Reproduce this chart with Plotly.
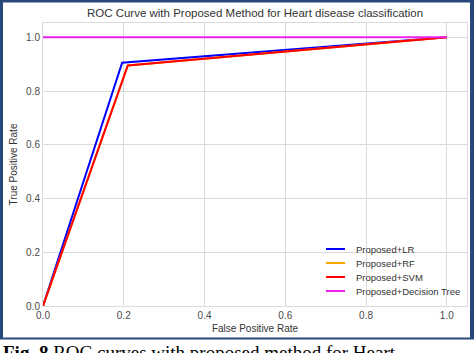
import plotly.graph_objects as go

# ---- data ----
fpr_lr = [0.0, 0.196, 1.0]
tpr_lr = [0.0, 0.905, 1.0]
fpr_rf = [0.0, 0.21, 1.0]
tpr_rf = [0.0, 0.895, 1.0]
fpr_svm = [0.0, 0.21, 1.0]
tpr_svm = [0.0, 0.895, 1.0]
fpr_dt = [0.0, 1.0]
tpr_dt = [1.0, 1.0]
tick_vals = [0.0, 0.2, 0.4, 0.6, 0.8, 1.0]
tick_text = ["0.0", "0.2", "0.4", "0.6", "0.8", "1.0"]

W, H = 474, 353
L, R, T, B = 43, 467, 23, 306  # plot area in pixels


def px(x):
    return (x - L) / (R - L)


def py(y):
    return (B - y) / (B - T)


fig = go.Figure()
series = [
    ("Proposed+LR", fpr_lr, tpr_lr, "#0000ff"),
    ("Proposed+RF", fpr_rf, tpr_rf, "#ffa500"),
    ("Proposed+SVM", fpr_svm, tpr_svm, "#ff0000"),
    ("Proposed+Decision Tree", fpr_dt, tpr_dt, "#ee22ee"),
]
for name, x, y, c in series:
    fig.add_trace(go.Scatter(x=x, y=y, mode="lines", name=name, showlegend=False,
                             line=dict(color=c, width=2)))

axis_common = dict(
    showgrid=True, gridcolor="#dadada", gridwidth=1,
    showline=True, linecolor="#dadada", linewidth=1, mirror=True,
    zeroline=False, ticks="", tickvals=tick_vals, ticktext=tick_text,
    tickfont=dict(family="Liberation Sans, Arial", size=10, color="#4a4a4a"),
)

fig.update_layout(
    width=W, height=H,
    margin=dict(l=L, r=W - R, t=T, b=H - B),
    paper_bgcolor="white", plot_bgcolor="white",
    font=dict(family="Liberation Sans, Arial", color="#333333"),
    title=dict(text="ROC Curve with Proposed Method for Heart disease classification",
               x=px((L + R) / 2), xref="paper", xanchor="center",
               y=1 - 13 / H, yanchor="middle",
               font=dict(size=11.5, color="#333333")),
    xaxis=dict(range=[0, 1.05], title=dict(text="False Positive Rate", standoff=4,
                                              font=dict(size=10, color="#333333")),
               **axis_common),
    yaxis=dict(range=[0, 1.053], title=dict(text="True Positive Rate", standoff=6,
                                               font=dict(size=10, color="#333333")),
               **axis_common),
)

shapes = []
# manual legend (compact, frameless, like the reference)
leg_x0, leg_x1, leg_tx = 326, 345, 354
leg_y0, leg_dy = 249, 14
for i, (name, _, _, c) in enumerate(series):
    yy = leg_y0 + i * leg_dy
    shapes.append(dict(type="line", xref="paper", yref="paper",
                       x0=px(leg_x0), x1=px(leg_x1), y0=py(yy), y1=py(yy),
                       line=dict(color=c, width=2), layer="above"))
    fig.add_annotation(text=name, xref="paper", yref="paper", x=px(leg_tx), y=py(yy),
                       xanchor="left", yanchor="middle", showarrow=False,
                       font=dict(size=9.5, color="#333333"))

frame = "#28487c"
frame_rects = [
    (0, 3, 0, 339),
    (0, 474, 0, 2.5),
    (470, 474, 0, 339),
    (0, 474, 337.5, 339.5),
]
for x0, x1, y0, y1 in frame_rects:
    shapes.append(dict(type="rect", xref="paper", yref="paper",
                       x0=px(x0), x1=px(x1), y0=py(y1), y1=py(y0),
                       fillcolor=frame, line=dict(width=0), layer="above"))
fig.update_layout(shapes=shapes)

fig.add_annotation(
    text="<b>Fig. 8</b> ROC curves with proposed method for Heart",
    xref="paper", yref="paper", x=px(1), y=py(339.5), xanchor="left", yanchor="top",
    showarrow=False, font=dict(family="Liberation Serif, Times New Roman", size=19, color="black"),
)

fig.write_html("out.html")
